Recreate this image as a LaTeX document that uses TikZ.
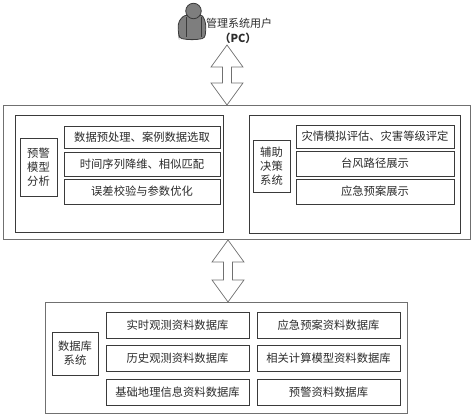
\documentclass[tikz,border=0pt]{standalone}
\usepackage{fontspec}
\setmainfont{Noto Sans CJK SC}
\usetikzlibrary{shapes.arrows}
\definecolor{lnblack}{HTML}{3A3A3A}
\definecolor{lngray}{HTML}{707070}
\definecolor{txtgray}{HTML}{2B2B2B}
\definecolor{usergray}{HTML}{7E7E7E}

\begin{document}
\begin{tikzpicture}[
  x=1pt, y=-1pt,
  outerbox/.style={draw=lngray, line width=1pt},
  groupbox/.style={draw=lnblack, line width=0.8pt},
  cellbox/.style={draw=lnblack, line width=0.8pt, inner sep=0pt, text=txtgray,
    font=\fontsize{11.3}{14}\selectfont, align=center},
  dblarrow/.style={draw=lngray, line width=0.7pt, double arrow, rotate=90,
    double arrow head extend=10pt, double arrow tip angle=72,
    minimum width=32pt, inner sep=3.5pt},
]
\useasboundingbox (0,0) rectangle (474,417);

% Utilisateur
\fill[usergray, draw=lnblack, line width=0.8pt, rounded corners=3pt]
  (179,38) -- (178,27) .. controls (179,20) and (183,16) .. (188,15)
  -- (199,15) .. controls (203,16) and (205,20) .. (206,27) -- (205,38)
  .. controls (196,40) and (188,40) .. (179,38) -- cycle;
\draw[lnblack, line width=0.5pt] (186,17) -- (186,37) (201,17) -- (201,37);
\node[circle, fill=usergray, draw=lnblack, line width=0.8pt, minimum size=15.5pt, inner sep=0pt] (head) at (193.5,11) {};
\node[font=\fontsize{11}{14}\selectfont, text=txtgray, inner sep=0pt] (user) at (239,23.5) {管理系统用户};
\node[font=\fontsize{11}{14}\selectfont\bfseries, text=txtgray, inner sep=0pt] (pc) at (238,38) {（PC）};

% Cadres
\node[outerbox, inner sep=0pt, minimum width=467pt, minimum height=133pt] (appbox) at (236.5,172.5) {};
\node[groupbox, inner sep=0pt, minimum width=208pt, minimum height=117pt] (warnbox) at (119,173.5) {};
\node[groupbox, inner sep=0pt, minimum width=211pt, minimum height=118pt] (aidbox) at (354.5,174) {};
\node[outerbox, inner sep=0pt, minimum width=362pt, minimum height=111pt] (dbbox) at (226,357.5) {};

% Fleches
\node[dblarrow, minimum height=60pt] (arrowtop) at (227,75) {};
\node[dblarrow, minimum height=62pt] (arrowmid) at (228,271) {};

% Etiquettes
\node[cellbox, minimum width=37pt, minimum height=58pt] (warnlabel) at (38.5,167) {预警\\模型\\分析};
\node[cellbox, minimum width=37pt, minimum height=52pt] (aidlabel) at (271.5,166) {辅助\\决策\\系统};
\node[cellbox, minimum width=46pt, minimum height=43pt] (dblabel) at (75,353.5) {数据库\\系统};

% Lignes du haut
\foreach \name/\y/\h/\txt in {w1/137/22/数据预处理、案例数据选取, w2/164/24/时间序列降维、相似匹配, w3/191.5/25/误差校验与参数优化} {
  \node[cellbox, minimum width=156pt, minimum height=\h pt] (\name) at (142,\y) {\txt};
}
\foreach \name/\y/\h/\txt in {a1/136.5/23/灾情模拟评估、灾害等级评定, a2/163.5/25/台风路径展示, a3/191.5/25/应急预案展示} {
  \node[cellbox, minimum width=158pt, minimum height=\h pt] (\name) at (375,\y) {\txt};
}

% Bases de donnees
\foreach \name/\y/\txt in {d1/325/实时观测资料数据库, d2/358/历史观测资料数据库, d3/392.5/基础地理信息资料数据库} {
  \node[cellbox, minimum width=143pt, minimum height=26pt] (\name) at (177.5,\y) {\txt};
}
\foreach \name/\y/\txt in {e1/325/应急预案资料数据库, e2/358/相关计算模型资料数据库, e3/392.5/预警资料数据库} {
  \node[cellbox, minimum width=143pt, minimum height=26pt] (\name) at (328.5,\y) {\txt};
}

\end{tikzpicture}
\end{document}
